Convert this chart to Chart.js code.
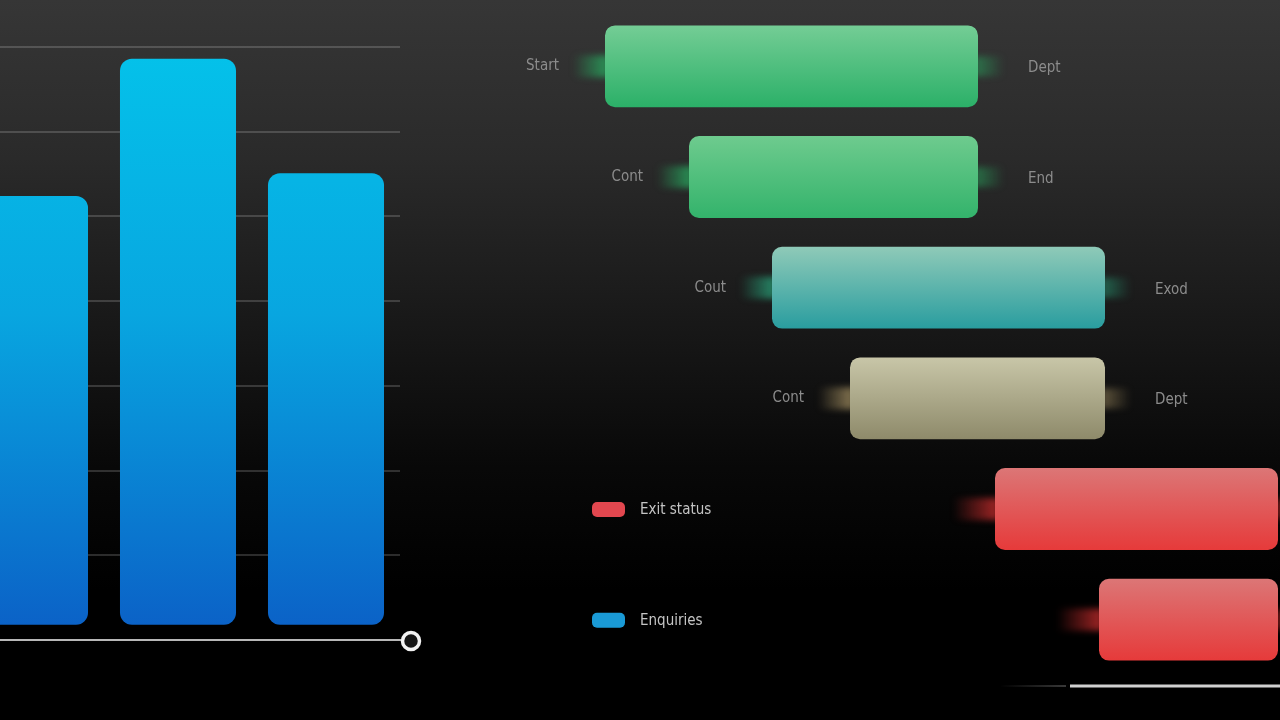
<!DOCTYPE html>
<html><head><meta charset="utf-8">
<script src="https://cdn.jsdelivr.net/npm/chart.js@4.4.1/dist/chart.umd.min.js"></script>
<style>
html,body{margin:0;padding:0;width:1280px;height:720px;overflow:hidden;}
body{background:linear-gradient(180deg,#363636 0%,#2a2a2a 22%,#181818 45%,#080808 65%,#000 82%);position:relative;}
#left{position:absolute;left:-44px;top:0;}
#right{position:absolute;left:500px;top:0;}
</style></head><body>
<canvas id="left" width="470" height="720"></canvas>
<canvas id="right" width="900" height="700"></canvas>
<script>
// ---- left chart data ----
const barCategories = ['North', 'Central', 'South'];
const barValues = [52.4, 68.6, 55.1];
const barBase = 1.8;
const yMax = 70;
const yStep = 10;

// ---- right chart data ----
const taskNames = ['Task 1', 'Task 2', 'Task 3', 'Task 4', 'Task 5', 'Task 6'];
const taskStart = [10.5, 18.9, 27.2, 35.0, 49.5, 59.9];
const taskEnd = [47.8, 47.8, 60.5, 60.5, 77.8, 77.8];
const startLabels = ['Start', 'Cont', 'Cout', 'Cont'];
const endLabels = ['Dept', 'End', 'Exod', 'Dept'];
const legendNames = ['Exit status', 'Enquiries'];
const legendColors = ['#e2474f', '#1a9ad6'];
const taskTop = ['#74cd95', '#6ecb8e', '#8fcab8', '#c8c6a8', '#dc7676', '#dc7676'];
const taskBottom = ['#2bb068', '#33b36b', '#299d9f', '#8e8a6a', '#e63a3a', '#e63a3a'];
const stubColors = ['rgba(40,170,95,', 'rgba(40,170,95,', 'rgba(40,160,120,', 'rgba(160,140,95,', 'rgba(200,45,45,', 'rgba(200,45,45,'];
const axisFrom = 57;
const xMax = 90;

const endDot = {
  id: 'endDot',
  afterDraw(chart) {
    const a = chart.chartArea, c = chart.ctx;
    c.save();
    c.beginPath();
    c.arc(a.right + 11, a.bottom + 1, 8.5, 0, Math.PI * 2);
    c.fillStyle = '#151515';
    c.fill();
    c.lineWidth = 3.5;
    c.strokeStyle = '#f2f2f2';
    c.stroke();
    c.restore();
  }
};

new Chart(document.getElementById('left'), {
  type: 'bar',
  data: {
    labels: barCategories,
    datasets: [{
      data: barValues,
      base: barBase,
      backgroundColor: ctx => {
        const a = ctx.chart.chartArea;
        if (!a || !isFinite(a.top) || !isFinite(a.bottom)) return '#08b4e2';
        const g = ctx.chart.ctx.createLinearGradient(0, a.top, 0, a.bottom);
        g.addColorStop(0, '#04c2ea');
        g.addColorStop(0.45, '#08a6e0');
        g.addColorStop(1, '#0b5fc6');
        return g;
      },
      borderRadius: 12,
      borderSkipped: false,
      barPercentage: 0.784,
      categoryPercentage: 1
    }]
  },
  options: {
    responsive: false,
    animation: false,
    layout: { padding: { top: 47, right: 26, bottom: 72, left: 0 } },
    plugins: { legend: { display: false }, tooltip: { enabled: false } },
    scales: {
      x: { grid: { display: false }, ticks: { display: false }, border: { display: true, color: '#b8b8b8', width: 2 } },
      y: {
        min: 0, max: yMax,
        ticks: { display: false, stepSize: yStep },
        border: { display: false },
        grid: { color: ctx => ctx.tick && ctx.tick.value === 0 ? 'rgba(0,0,0,0)' : 'rgba(255,255,255,0.17)', lineWidth: 2, drawTicks: false }
      }
    }
  },
  plugins: [endDot]
});

const FONT = '15px "Liberation Sans Narrow", "DejaVu Sans Condensed", sans-serif';

const ganttDecor = {
  id: 'ganttDecor',
  beforeDatasetsDraw(chart) {
    const c = chart.ctx;
    const meta = chart.getDatasetMeta(0);
    c.save();
    c.filter = 'blur(3px)';
    meta.data.forEach((el, i) => {
      const s = el.base, e = el.x, y = el.y;
      const lw = i >= 4 ? 42 : 32;
      let g = c.createLinearGradient(s - lw, 0, s, 0);
      g.addColorStop(0, stubColors[i] + '0)');
      g.addColorStop(1, stubColors[i] + '0.75)');
      c.fillStyle = g;
      c.fillRect(s - lw, y - 11, lw + 4, 22);
      g = c.createLinearGradient(e, 0, e + 26, 0);
      g.addColorStop(0, stubColors[i] + '0.5)');
      g.addColorStop(1, stubColors[i] + '0)');
      c.fillStyle = g;
      c.fillRect(e - 4, y - 10, 30, 20);
    });
    c.restore();
  },
  afterDatasetsDraw(chart) {
    const c = chart.ctx;
    const meta = chart.getDatasetMeta(0);
    const xs = chart.scales.x;
    const a = chart.chartArea;
    c.save();
    c.font = FONT;
    c.textBaseline = 'middle';
    meta.data.forEach((el, i) => {
      if (i < startLabels.length) {
        c.fillStyle = '#8c8c8c';
        c.textAlign = 'right';
        c.fillText(startLabels[i], el.base - 46, el.y);
        c.textAlign = 'left';
        c.fillText(endLabels[i], el.x + 50, el.y + 2);
      } else {
        const k = i - startLabels.length;
        c.fillStyle = legendColors[k];
        c.beginPath();
        c.roundRect(92, el.y - 7, 33, 15, 5);
        c.fill();
        c.fillStyle = '#c4c4c4';
        c.textAlign = 'left';
        c.fillText(legendNames[k], 140, el.y + 1);
      }
    });
    // bottom axis line
    const ay = a.bottom + 11;
    const x0 = xs.getPixelForValue(axisFrom);
    const g = c.createLinearGradient(x0 - 70, 0, x0, 0);
    g.addColorStop(0, 'rgba(200,200,200,0)');
    g.addColorStop(1, 'rgba(200,200,200,0.3)');
    c.strokeStyle = g;
    c.lineWidth = 2;
    c.beginPath(); c.moveTo(x0 - 70, ay); c.lineTo(x0 - 4, ay); c.stroke();
    c.strokeStyle = '#d0d0d0';
    c.lineWidth = 3;
    c.beginPath(); c.moveTo(x0, ay); c.lineTo(a.right, ay); c.stroke();
    c.restore();
  }
};

new Chart(document.getElementById('right'), {
  type: 'bar',
  data: {
    labels: taskNames,
    datasets: [{
      data: taskStart.map((s, i) => [s, taskEnd[i]]),
      backgroundColor: ctx => {
        const i = ctx.dataIndex;
        const ys = ctx.chart.scales.y;
        if (i === undefined || !ys) return taskBottom[0];
        const cy = ys.getPixelForValue(i);
        if (!isFinite(cy)) return taskBottom[i];
        const g = ctx.chart.ctx.createLinearGradient(0, cy - 41, 0, cy + 41);
        g.addColorStop(0, taskTop[i]);
        g.addColorStop(1, taskBottom[i]);
        return g;
      },
      borderRadius: 10,
      borderSkipped: false,
      barPercentage: 0.74,
      categoryPercentage: 1
    }]
  },
  options: {
    indexAxis: 'y',
    responsive: false,
    animation: false,
    layout: { padding: { top: 11, bottom: 25, left: 0, right: 0 } },
    plugins: { legend: { display: false }, tooltip: { enabled: false } },
    scales: {
      x: { min: 0, max: xMax, display: false },
      y: { display: false }
    }
  },
  plugins: [ganttDecor]
});
</script>
</body></html>
